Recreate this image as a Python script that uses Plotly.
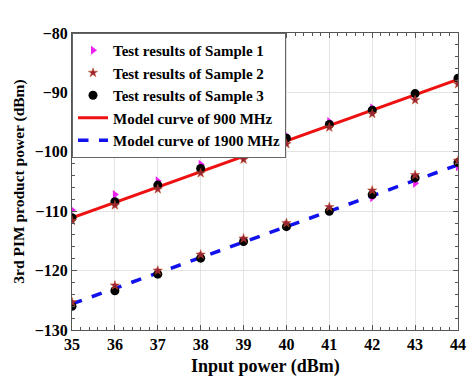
import plotly.graph_objects as go

input_power = [35, 36, 37, 38, 39, 40, 41, 42, 43, 44]

# 900 MHz measurements
s1_900 = [-109.8, -107.2, -104.9, -102.1, -99.7, -97.3, -94.9, -92.6, -90.4, -88.0]
s2_900 = [-111.6, -109.0, -106.3, -103.6, -101.3, -98.7, -95.9, -93.6, -91.3, -88.6]
s3_900 = [-111.1, -108.4, -105.6, -102.8, -100.5, -97.7, -95.4, -93.0, -90.2, -87.6]
model_900 = [-111.1, -108.5, -105.9, -103.3, -100.7, -98.1, -95.5, -92.9, -90.4, -87.8]

# 1900 MHz measurements
s1_1900 = [-125.7, -123.0, -120.3, -117.6, -114.9, -112.3, -109.7, -107.7, -105.3, -102.5]
s2_1900 = [-125.3, -122.5, -120.0, -117.3, -114.6, -112.0, -109.3, -106.5, -103.9, -101.5]
s3_1900 = [-126.0, -123.4, -120.6, -117.9, -115.1, -112.6, -110.0, -107.2, -104.4, -101.8]
model_1900 = [-125.6, -123.0, -120.4, -117.8, -115.2, -112.6, -110.0, -107.4, -104.8, -102.2]

FONT = "Liberation Serif"
fig = go.Figure()

fig.add_trace(go.Scatter(x=input_power, y=model_900, mode="lines",
                         line=dict(color="#ee1111", width=3),
                         name="<b>Model curve of 900 MHz</b>", legendrank=4))
fig.add_trace(go.Scatter(x=input_power, y=model_1900, mode="lines",
                         line=dict(color="#1111ee", width=3.5, dash="dash"),
                         name="<b>Model curve of 1900 MHz</b>", legendrank=5))

s1x = input_power + input_power
fig.add_trace(go.Scatter(x=s1x, y=s1_900 + s1_1900, mode="markers",
                         marker=dict(symbol="triangle-right", color="#ee22ee", size=8),
                         name="<b>Test results of Sample 1</b>", legendrank=1))
fig.add_trace(go.Scatter(x=s1x, y=s3_900 + s3_1900, mode="markers",
                         marker=dict(symbol="circle", color="black", size=9),
                         name="<b>Test results of Sample 3</b>", legendrank=3))
fig.add_trace(go.Scatter(x=s1x, y=s2_900 + s2_1900, mode="markers",
                         marker=dict(symbol="star", color="#9b2335", size=7,
                                     line=dict(color="#c05020", width=0.5)),
                         name="<b>Test results of Sample 2</b>", legendrank=2))

axis_common = dict(
    showline=True, linecolor="#555555", linewidth=1, mirror="allticks",
    ticks="inside", ticklen=5, tickcolor="#555555",
    showgrid=True, gridcolor="#e3e3e3", gridwidth=1, zeroline=False,
    tickfont=dict(family=FONT, size=16, color="black"),
    ticklabeloverflow="allow",
)

fig.update_xaxes(range=[35, 44], dtick=1, tick0=35,
                 minor=dict(ticks="inside", ticklen=3, dtick=0.2, tickcolor="#555555", showgrid=False),
                 tickprefix="<b>", ticksuffix="</b>", **axis_common)
fig.update_yaxes(range=[-130, -80], dtick=10,
                 minor=dict(ticks="inside", ticklen=3, dtick=2, tickcolor="#555555", showgrid=False),
                 title=dict(text="<b>3rd PIM product power (dBm)</b>", font=dict(family=FONT, size=15.5, color="black"), standoff=6),
                 tickprefix="<b>", ticksuffix="</b>", **axis_common)

fig.add_annotation(text="<b>Input power (dBm)</b>", xref="paper", yref="paper",
                   x=0.5, y=0, xanchor="center", yanchor="top", yshift=-24,
                   showarrow=False, font=dict(family=FONT, size=18, color="black"))

fig.update_layout(
    width=474, height=377,
    margin=dict(l=72, r=8, t=33, b=47),
    plot_bgcolor="white", paper_bgcolor="white",
    font=dict(family=FONT, size=15, color="black"),
    legend=dict(x=0, y=1, xanchor="left", yanchor="top",
                bgcolor="white", bordercolor="#666666", borderwidth=1,
                font=dict(family=FONT, size=15, color="black"),
                tracegroupgap=0, itemwidth=30),
    showlegend=True,
)

fig.write_html("out.html", config={"displayModeBar": False},
               post_script="document.body.style.margin='0';document.body.style.overflow='hidden';")
